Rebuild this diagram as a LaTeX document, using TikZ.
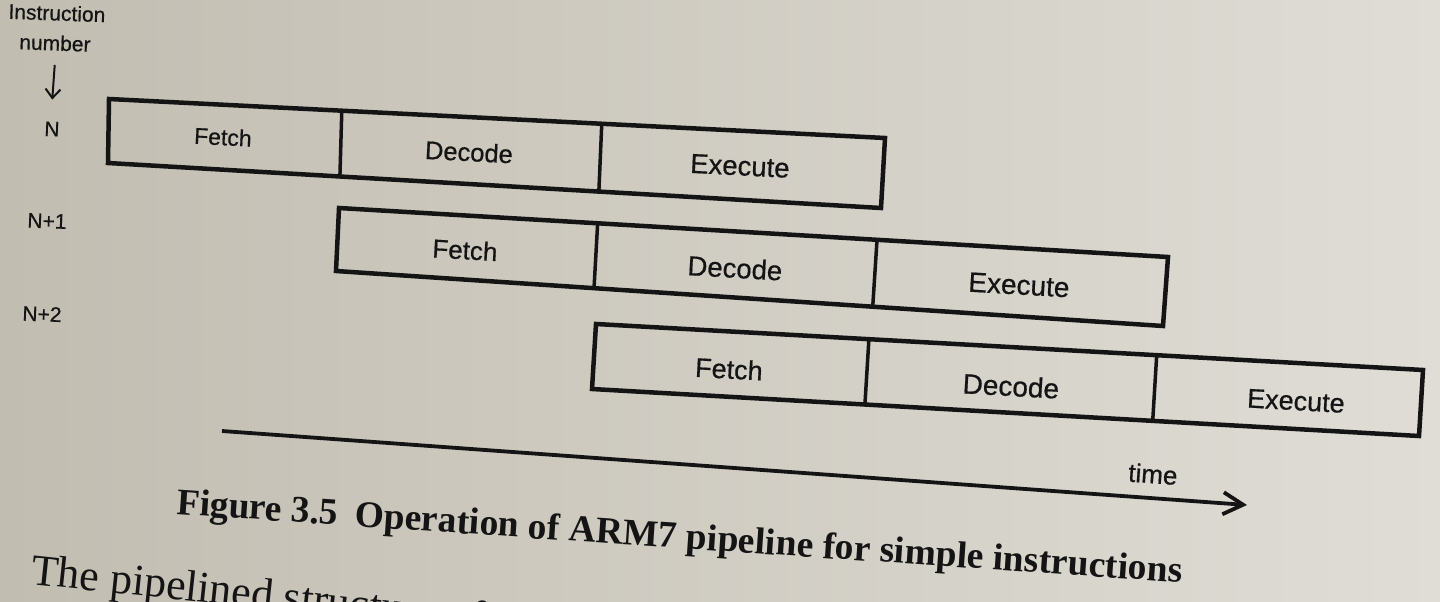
\documentclass[tikz,border=0pt]{standalone}
\usepackage{fontspec}
\setmainfont{Liberation Sans}[FakeBold=0.6]
\newfontfamily\labfont{Liberation Sans}[FakeBold=0.6]
\newfontfamily\capfont{Liberation Serif}
\usetikzlibrary{arrows.meta,calc}
\definecolor{ink}{RGB}{20,20,20}
\definecolor{paperL}{RGB}{194,189,177}
\definecolor{paperR}{RGB}{223,221,214}
\tikzset{
  boxline/.style={draw=ink, line width=4.5pt, line join=miter},
  divline/.style={draw=ink, line width=3.5pt},
  stagetext/.style={text=ink, inner sep=0pt, font=\labfont\fontsize{#1}{#1}\selectfont},
  lab/.style={text=ink, inner sep=0pt, font=\labfont\fontsize{21}{21}\selectfont},
  timeline/.style={draw=ink, line width=3.8pt, -{Straight Barb[length=20pt,width=22pt,line width=3.8pt]}},
  downarrow/.style={draw=ink, line width=2pt, -{Straight Barb[length=9pt,width=15pt,line width=2pt]}},
  captext/.style={text=ink, inner sep=0pt, font=\capfont\bfseries\fontsize{37.5}{37.5}\selectfont},
  bodytext/.style={text=ink, inner sep=0pt, font=\capfont\fontsize{44}{44}\selectfont}
}
\begin{document}
\begin{tikzpicture}[x=1pt,y=-1pt]
\clip (0,0) rectangle (1440,602);
\fill[left color=paperL, right color=paperR] (0,0) rectangle (1440,602);

% ---- left labels
\node[lab, rotate=-2] (instr) at (57,13) {Instruction};
\node[lab, rotate=-2] (num) at (55,43) {number};
\node[lab, rotate=-2] (nN) at (52,129) {N};
\node[lab, rotate=-2] (nN1) at (47,221) {N+1};
\node[lab, rotate=-2] (nN2) at (42,314) {N+2};
\draw[downarrow] ([yshift=-14pt]num.south) -- ([yshift=22pt]nN.north);

% ---- row N
\coordinate (a0) at (109,99);  \coordinate (a3) at (885,138);
\coordinate (b0) at (108,163); \coordinate (b3) at (881,208);
\coordinate (a1) at ($(a0)!0.300!(a3)$); \coordinate (b1) at ($(b0)!0.300!(b3)$);
\coordinate (a2) at ($(a0)!0.635!(a3)$); \coordinate (b2) at ($(b0)!0.635!(b3)$);
\draw[boxline] (a0) -- (a3) -- (b3) -- (b0) -- cycle;
\draw[divline] (a1) -- (b1);
\draw[divline] (a2) -- (b2);
\node[stagetext=23, rotate=-2.9] (f0) at (223,137) {Fetch};
\node[stagetext=25.5, rotate=-2.9] (d0) at (469,152) {Decode};
\node[stagetext=27.5, rotate=-2.9] (e0) at (740,166) {Execute};

% ---- row N+1
\coordinate (c0) at (339,208);  \coordinate (c3) at (1168,257);
\coordinate (g0) at (336,271);  \coordinate (g3) at (1163,326);
\coordinate (c1) at ($(c0)!0.312!(c3)$); \coordinate (g1) at ($(g0)!0.312!(g3)$);
\coordinate (c2) at ($(c0)!0.649!(c3)$); \coordinate (g2) at ($(g0)!0.649!(g3)$);
\draw[boxline] (c0) -- (c3) -- (g3) -- (g0) -- cycle;
\draw[divline] (c1) -- (g1);
\draw[divline] (c2) -- (g2);
\node[stagetext=26, rotate=-3.3] (f1) at (465,250) {Fetch};
\node[stagetext=27.5, rotate=-3.3] (d1) at (735,268) {Decode};
\node[stagetext=28, rotate=-3.3] (e1) at (1019,285) {Execute};

% ---- row N+2
\coordinate (h0) at (596,324);  \coordinate (h3) at (1423,370);
\coordinate (k0) at (592,389);  \coordinate (k3) at (1419,436);
\coordinate (h1) at ($(h0)!0.330!(h3)$); \coordinate (k1) at ($(k0)!0.330!(k3)$);
\coordinate (h2) at ($(h0)!0.678!(h3)$); \coordinate (k2) at ($(k0)!0.678!(k3)$);
\draw[boxline] (h0) -- (h3) -- (k3) -- (k0) -- cycle;
\draw[divline] (h1) -- (k1);
\draw[divline] (h2) -- (k2);
\node[stagetext=27, rotate=-3.2] (f2) at (729,369) {Fetch};
\node[stagetext=28, rotate=-3.2] (d2) at (1011,386) {Decode};
\node[stagetext=27, rotate=-3.2] (e2) at (1296,401) {Execute};

% ---- time axis
\coordinate (t0) at (222,431);
\coordinate (t1) at (1247,505);
\draw[timeline] (t0) -- (t1);
\node[stagetext=26, rotate=-4] (time) at (1153,474) {time};

% ---- caption and body text
\node[captext, rotate=-3.9, anchor=base west] (cap) at (176,514)
  {Figure 3.5\hspace{0.2em} Operation of ARM7 pipeline for simple instructions};
\node[bodytext, rotate=-6, anchor=base west] (body) at (30,584)
  {The pipelined structure of the};
\end{tikzpicture}
\end{document}
